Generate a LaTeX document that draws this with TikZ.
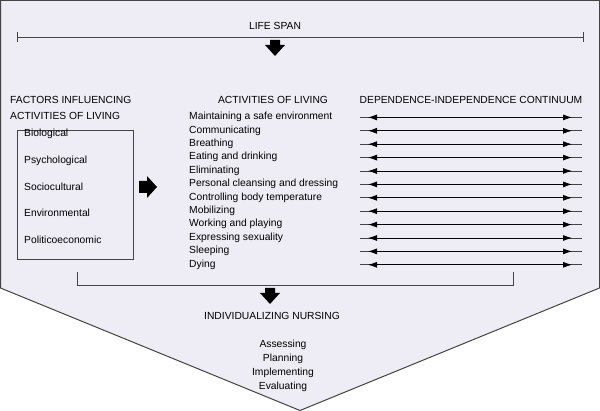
\documentclass[tikz,border=0pt]{standalone}
\usepackage{fontspec}
\setmainfont{Liberation Sans}
\usetikzlibrary{arrows.meta}
\definecolor{bg}{HTML}{EEECF4}
\definecolor{ln}{HTML}{444444}
\begin{document}
\begin{tikzpicture}[x=1pt,y=-1pt,
  txt/.style={font=\fontsize{10.3}{12}\selectfont,inner sep=0pt},
  lft/.style={txt,anchor=west},
  cont/.style={draw=black,line width=0.8pt,{Latex[length=9pt,width=6pt]}-{Latex[length=9pt,width=6pt]},shorten <=8pt,shorten >=10pt}]
\useasboundingbox (0,0) rectangle (600,411);
\fill[bg,draw=ln,line width=1pt] (0.5,0.5) -- (599.5,0.5) -- (599.5,288) -- (300,410.5) -- (0.5,288) -- cycle;
% life span
\node[txt] (ls) at (275,26) {LIFE SPAN};
\coordinate (lsL) at (17,37); \coordinate (lsR) at (583,37);
\draw[ln,line width=0.8pt] (lsL) -- (lsR);
\draw[ln,line width=0.8pt] (17,32) -- (17,42) (583,32) -- (583,42);
\fill (270,40) -- (280,40) -- (280,45) -- (285,45) -- (275,56) -- (265,45) -- (270,45) -- cycle;
% headers
\node[lft] (fh1) at (10,100) {FACTORS INFLUENCING};
\node[lft] (fh2) at (10,116) {ACTIVITIES OF LIVING};
\node[txt] (ah) at (273,100) {ACTIVITIES OF LIVING};
\node[txt] (dh) at (471,100) {DEPENDENCE-INDEPENDENCE CONTINUUM};
% factor box
\draw[ln,line width=0.8pt] (17,130) rectangle (133,259);
\foreach \t [count=\i] in {Biological,Psychological,Sociocultural,Environmental,Politicoeconomic}
  \node[lft] (f\i) at (24,108+26.3*\i) {\t};
\fill (139,181) -- (147,181) -- (147,176) -- (157,187) -- (147,198) -- (147,193) -- (139,193) -- cycle;
% activities
\foreach \t [count=\i] in {Maintaining a safe environment,Communicating,Breathing,Eating and drinking,Eliminating,Personal cleansing and dressing,Controlling body temperature,Mobilizing,Working and playing,Expressing sexuality,Sleeping,Dying}{
  \node[lft] (a\i) at (189,103.6+13.4*\i) {\t};
  \coordinate (l\i) at (360,104+13.4*\i);
  \coordinate (r\i) at (582,104+13.4*\i);
  \draw[ln,line width=0.8pt] (l\i) -- (r\i);
  \draw[cont] (l\i) -- (r\i);
}
% bracket
\draw[ln,line width=0.8pt] (77,272) -- (77,285) -- (513,285) -- (513,272);
\fill (265,288) -- (275,288) -- (275,293) -- (280,293) -- (270,304) -- (260,293) -- (265,293) -- cycle;
\node[txt] (in) at (272,316) {INDIVIDUALIZING NURSING};
\foreach \t [count=\i] in {Assessing,Planning,Implementing,Evaluating}
  \node[txt] (e\i) at (283,331+14*\i) {\t};
\end{tikzpicture}
\end{document}
